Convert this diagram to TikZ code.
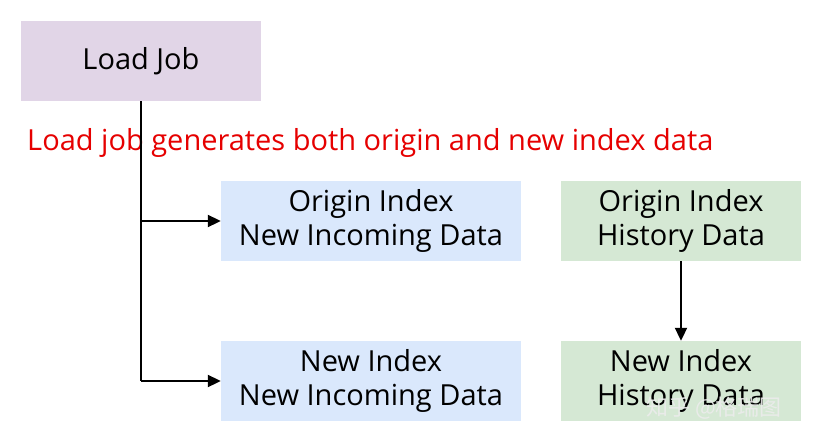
\documentclass[tikz,border=0pt]{standalone}
\usepackage{fontspec}
\setmainfont{Open Sans}
\newfontfamily\cjk{Noto Sans CJK SC}
\usetikzlibrary{arrows.meta}
\definecolor{purplefill}{HTML}{E1D5E7}
\definecolor{bluefill}{HTML}{DAE8FC}
\definecolor{greenfill}{HTML}{D5E8D4}
\definecolor{redtext}{HTML}{E60000}
\tikzset{
  box/.style={draw=none, minimum height=80pt, align=center, inner sep=0pt,
    font=\fontsize{29}{34}\selectfont},
  arr/.style={-{Triangle[length=13pt,width=12pt]}, line width=2pt},
  ln/.style={line width=2pt}
}
\begin{document}
\begin{tikzpicture}[x=1pt,y=-1pt]
\useasboundingbox (0,0) rectangle (822,442);
\fill[white] (0,0) rectangle (822,442);
\node[box, fill=purplefill, minimum width=240pt] (load) at (141,61) {Load Job};
\node[box, fill=bluefill, minimum width=300pt] (oinew) at (371,221) {Origin Index\\New Incoming Data};
\node[box, fill=bluefill, minimum width=300pt] (ninew) at (371,381) {New Index\\New Incoming Data};
\node[box, fill=greenfill, minimum width=240pt] (oihist) at (681,221) {Origin Index\\History Data};
\node[box, fill=greenfill, minimum width=240pt] (nihist) at (681,381) {New Index\\History Data};
\node[text=redtext, font=\fontsize{29}{32}\selectfont, anchor=west, inner sep=0pt] (note) at (27,143) {Load job generates both origin and new index data};
\coordinate (j1) at (141,221);
\coordinate (j2) at (141,381);
\draw[ln] (load.south) -- (j2);
\draw[arr] (j1) -- (oinew.west);
\draw[arr] (j2) -- (ninew.west);
\draw[arr] (oihist.south) -- (nihist.north);
\node[text=white!85!gray, opacity=0.9, font=\cjk\fontsize{22}{24}\selectfont, anchor=west, inner sep=0pt] (wm) at (646,408) {知乎 @格瑞图};
\end{tikzpicture}
\end{document}
